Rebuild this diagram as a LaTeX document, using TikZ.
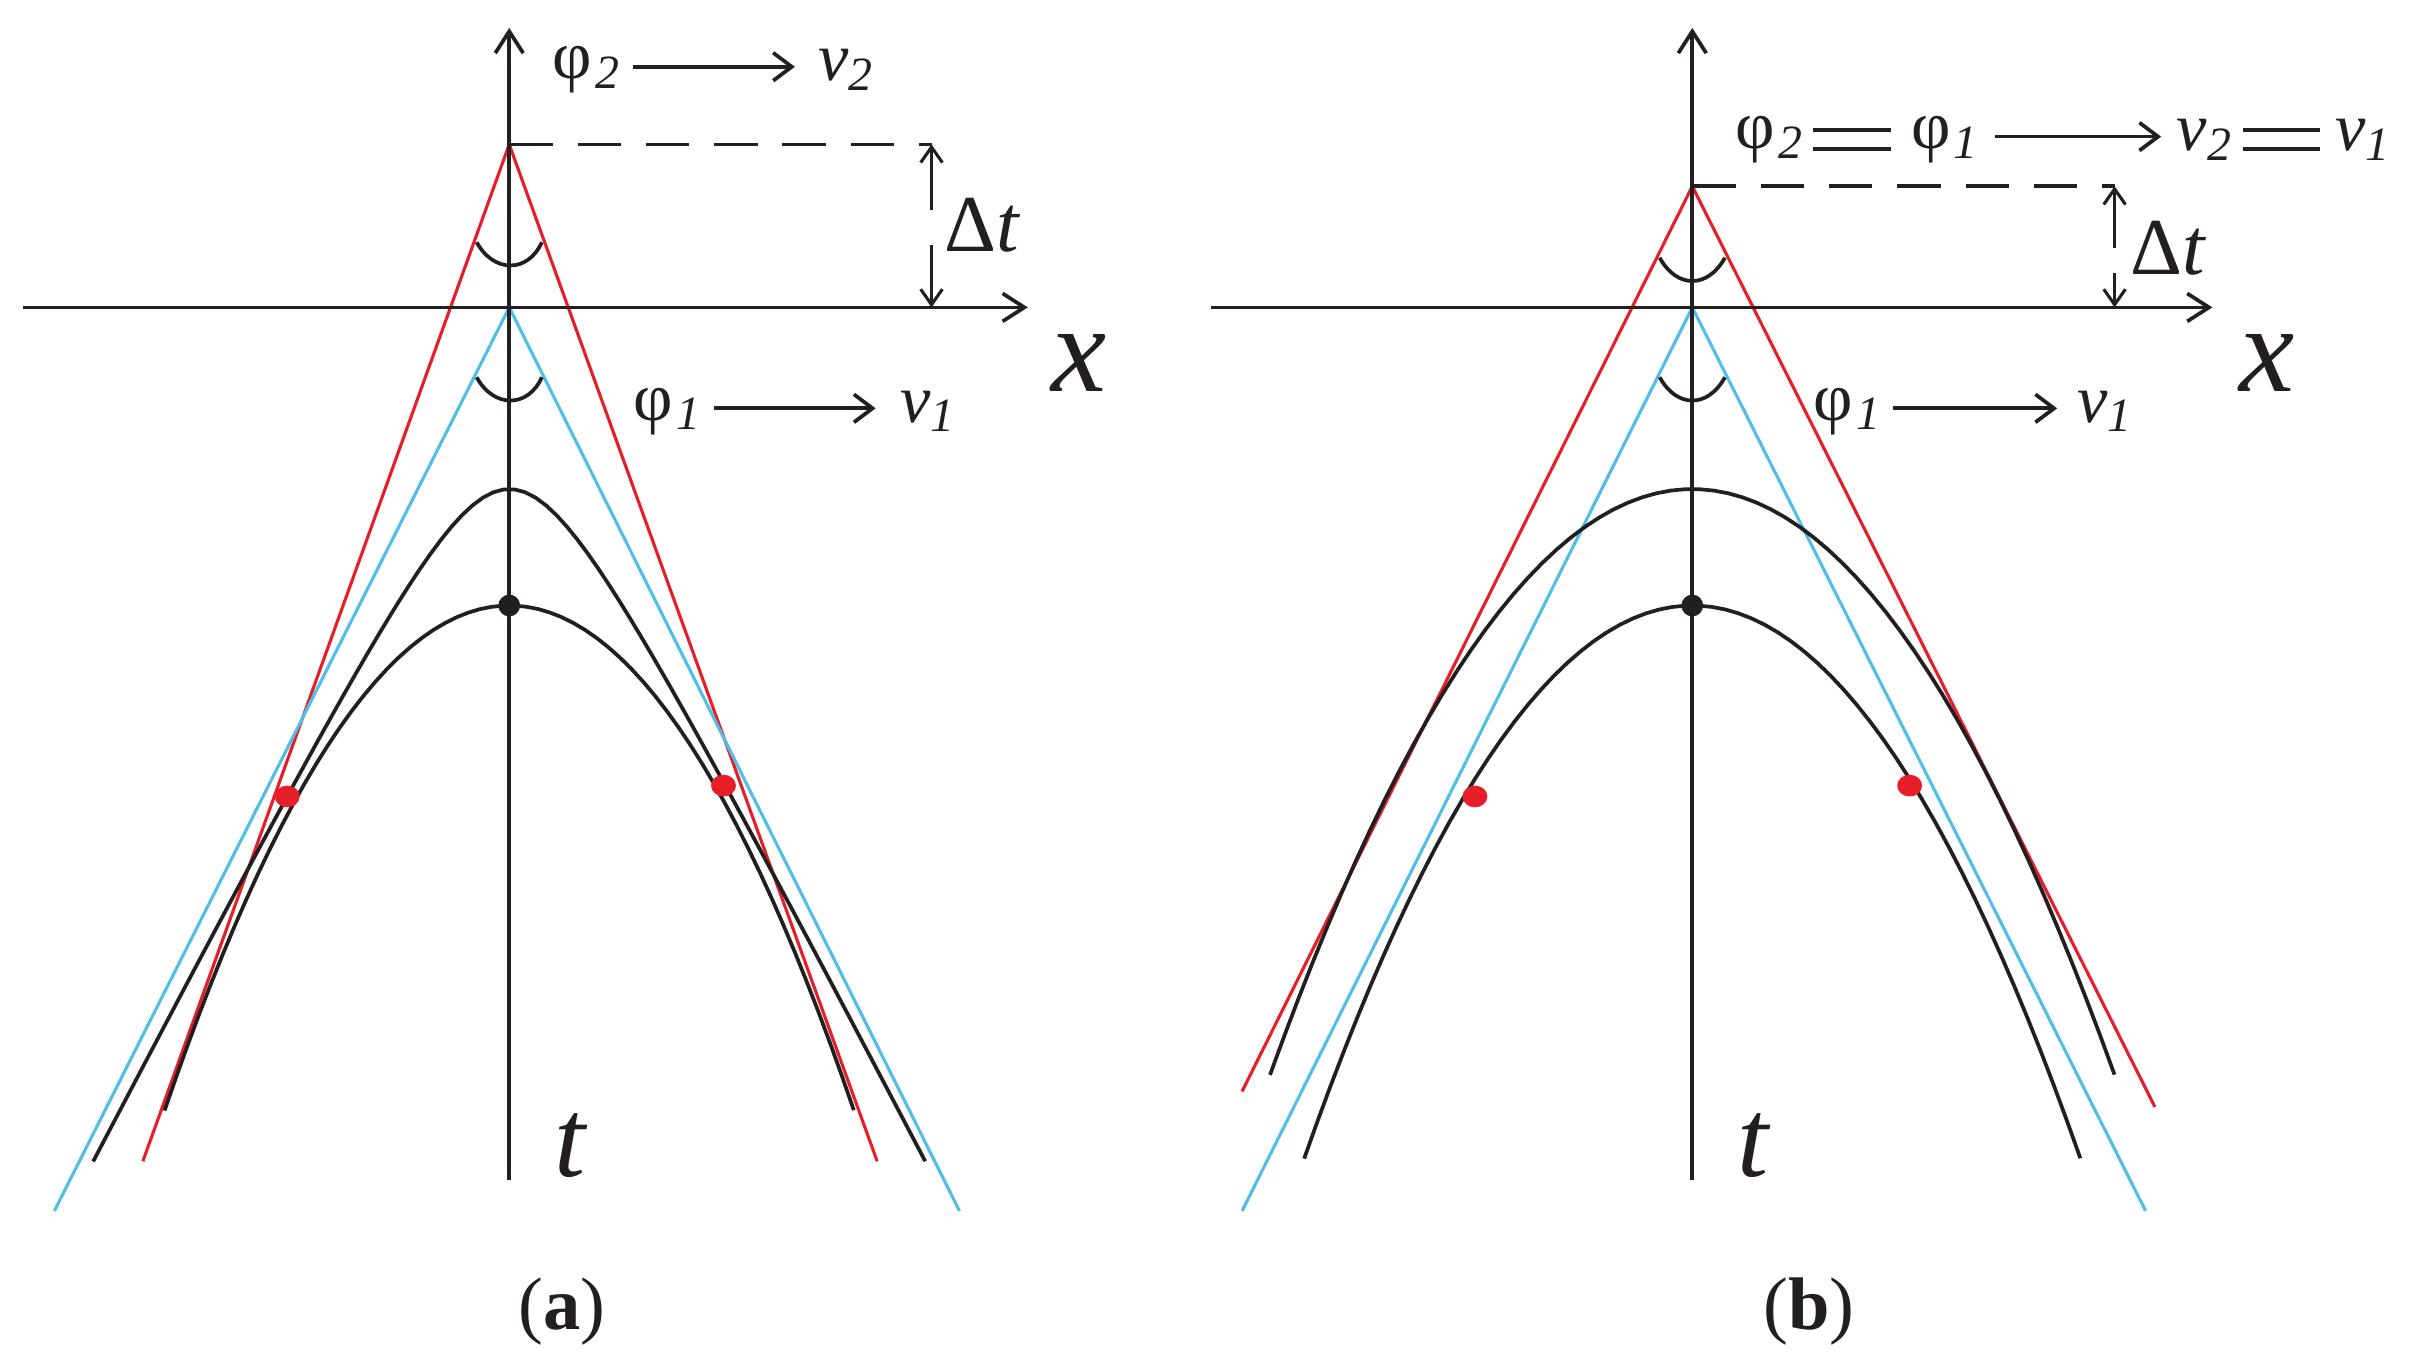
\documentclass[tikz,border=0pt]{standalone}
\usepackage{fontspec}
\setmainfont{Liberation Serif}
\usetikzlibrary{arrows.meta}
\definecolor{ink}{RGB}{35,31,32}
\definecolor{lred}{RGB}{230,30,40}
\definecolor{lcyan}{RGB}{80,190,230}
\tikzset{
  ax/.style={ink,line width=1.2pt,-{Straight Barb[length=7pt,width=9pt,line width=1.2pt]}},
  ln/.style={line width=1pt},
  cv/.style={ink,line width=1.2pt},
  lab/.style={ink,inner sep=0pt,font=\fontsize{22}{22}\selectfont},
  arr/.style={ink,line width=1.2pt,-{Straight Barb[length=6pt,width=9pt,line width=1.2pt]}},
  dt/.style={ink,line width=1pt,-{Straight Barb[length=5pt,width=7pt,line width=1pt]}},
}
\newcommand{\ph}[1]{φ\kern1pt\textsubscript{\itshape #1}}
\newcommand{\vv}[1]{\textit{v}\textsubscript{\itshape #1}}
\begin{document}
\begin{tikzpicture}[x=0.5pt,y=-0.5pt]
\useasboundingbox (0,0) rectangle (1560,878);
% ---------- panel a ----------
\begin{scope}
\coordinate (O) at (328,198);
\coordinate (R) at (328,93);
\draw[ln,lred] (92,748) -- (R) -- (565,748);
\draw[ln,lcyan] (35,780) -- (O) -- (618,780);
\draw[cv] plot[domain=-2.68:2.68,samples=80] ({328+100*\x},{315-94.9+10*sqrt(9.49*9.49+(19.38*\x)*(19.38*\x))});
\draw[cv] plot[domain=-2.22:2.22,samples=60] ({328+100*\x},{390+66*\x*\x});
\draw[ax] (328,760) -- (328,18);
\draw[ax] (15,198) -- (662,198);
\draw[ink,line width=1.2pt,dashed,dash pattern=on 14pt off 8pt] (R) -- (600,93);
\coordinate (dA) at (600,93); \coordinate (dB) at (600,198);
\draw[dt] (600,135) -- (dA);
\draw[dt] (600,158) -- (dB);
\node[lab,anchor=west] (dtl) at (608,145) {\fontsize{26}{26}\selectfont Δ\textit{t}};
\draw[cv] (307,156) .. controls (318,176) and (340,176) .. (349,156);
\draw[cv] (307,243) .. controls (318,263) and (340,263) .. (349,243);
\node[lab] (p2) at (378,45) {\ph{2}};
\node[lab] (v2) at (545,45) {\vv{2}};
\draw[arr] (408,43) -- (512,43);
\node[lab] (p1) at (430,265) {\ph{1}};
\node[lab] (v1) at (598,265) {\vv{1}};
\draw[arr] (460,263) -- (564,263);
\node[lab] (xl) at (695,234) {\fontsize{40}{40}\selectfont\textit{x}};
\node[lab] (tl) at (368,738) {\fontsize{36}{36}\selectfont\textit{t}};
\fill[ink] (328,390) circle (7);
\fill[lred] (185,513) ellipse (8 and 7);
\fill[lred] (466,506) ellipse (8 and 7);
\node[lab] (ca) at (362,845) {\fontsize{24}{24}\selectfont(\textbf{a})};
\end{scope}
% ---------- panel b ----------
\begin{scope}
\coordinate (O2) at (1090,198);
\coordinate (R2) at (1090,120);
\draw[ln,lred] (800,703) -- (R2) -- (1388,713);
\draw[ln,lcyan] (800,780) -- (O2) -- (1382,780);
\draw[cv] plot[domain=-2.72:2.72,samples=60] ({1090+100*\x},{315+51*\x*\x});
\draw[cv] plot[domain=-2.5:2.5,samples=60] ({1090+100*\x},{390+57*\x*\x});
\draw[ax] (1090,760) -- (1090,18);
\draw[ax] (780,198) -- (1425,198);
\draw[ink,line width=1.2pt,dashed,dash pattern=on 14pt off 8pt] (R2) -- (1362,120);
\coordinate (dC) at (1362,120); \coordinate (dD) at (1362,198);
\draw[dt] (1362,160) -- (dC);
\draw[dt] (1362,176) -- (dD);
\node[lab,anchor=west] (dtl2) at (1372,160) {\fontsize{26}{26}\selectfont Δ\textit{t}};
\draw[cv] (1069,166) .. controls (1080,186) and (1100,186) .. (1111,166);
\draw[cv] (1069,243) .. controls (1080,263) and (1100,263) .. (1111,243);
\node[lab] (q2) at (1140,90) {\ph{2}};
\draw[ink,line width=1.3pt] (1168,84) -- (1218,84) (1168,96) -- (1218,96);
\node[lab] (q1) at (1253,90) {\ph{1}};
\draw[arr] (1285,88) -- (1392,88);
\node[lab] (w2) at (1420,90) {\vv{2}};
\draw[ink,line width=1.3pt] (1445,84) -- (1494,84) (1445,96) -- (1494,96);
\node[lab] (w1) at (1522,90) {\vv{1}};
\node[lab] (q3) at (1190,265) {\ph{1}};
\draw[arr] (1219,263) -- (1325,263);
\node[lab] (w3) at (1356,265) {\vv{1}};
\node[lab] (xl2) at (1460,234) {\fontsize{40}{40}\selectfont\textit{x}};
\node[lab] (tl2) at (1130,738) {\fontsize{36}{36}\selectfont\textit{t}};
\fill[ink] (1090,390) circle (7);
\fill[lred] (950,513) ellipse (8 and 7);
\fill[lred] (1230,506) ellipse (8 and 7);
\node[lab] (cb) at (1165,845) {\fontsize{24}{24}\selectfont(\textbf{b})};
\end{scope}
\end{tikzpicture}
\end{document}
